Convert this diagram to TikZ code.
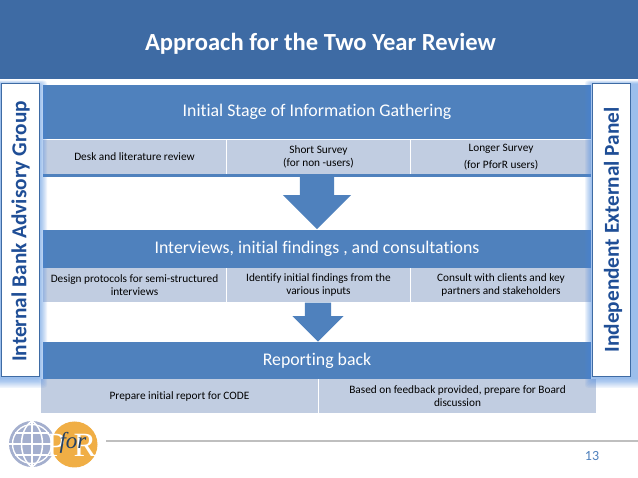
\documentclass[tikz,border=0pt]{standalone}
\usepackage{fontspec}
\setmainfont[Ligatures=NoCommon]{Carlito}
\newfontfamily\logofont{Liberation Serif}
\usepackage{xcolor}
\usetikzlibrary{arrows.meta,positioning,shapes.arrows,calc}
\definecolor{titleblue}{HTML}{3E6BA4}
\definecolor{bandblue}{HTML}{4F81BD}
\definecolor{rowblue}{HTML}{C1CDE1}
\definecolor{panelblue}{HTML}{1F4E96}
\definecolor{glowblue}{HTML}{4A8AE0}
\definecolor{globeblue}{HTML}{A4AFCE}
\definecolor{logoorange}{HTML}{F0AE45}
\tikzset{
  band/.style={fill=bandblue,text=white,font=\fontsize{17.8}{22}\selectfont,inner sep=0pt},
  rowcell/.style={fill=rowblue,text=black,font=\fontsize{11.3}{13}\selectfont,inner sep=0pt,minimum height=34pt},
  panel/.style={draw=titleblue,line width=1pt,fill=white,minimum width=38pt,minimum height=293pt},
  paneltext/.style={rotate=90,text=panelblue,font=\fontsize{21.3}{26}\bfseries\selectfont},
  blockarrow/.style={single arrow,fill=bandblue,rotate=-90,inner xsep=0pt,anchor=tip,single arrow tip angle=90}
}
\begin{document}
\begin{tikzpicture}[x=1pt,y=-1pt,every node/.style={align=center}]
  \useasboundingbox (0,0) rectangle (638,478);
  \fill[white] (0,0) rectangle (638,478);
  % title
  \node[fill=titleblue,minimum width=638pt,minimum height=79pt,inner sep=0pt] (titlebar) at (319,39.5) {};
  \node[text=white,font=\fontsize{24.6}{28}\bfseries\selectfont] (title) at (320.5,44) {Approach for the Two Year Review};
  % first stage
  \node[band,minimum width=548pt,minimum height=54pt] (initial) at (317,112) {Initial Stage of Information Gathering};
  \node[rowcell,minimum width=183pt] (desk) at (134.5,157) {Desk and literature review};
  \node[rowcell,minimum width=183pt] (short) at (318.5,157) {Short Survey\\(for non -users)};
  \node[rowcell,minimum width=180pt] (longer) at (501,157) {Longer Survey\\[4pt](for PforR users)};
  \fill[bandblue] (desk.south west) rectangle ($(longer.south east)+(0,3)$);
  % second stage
  \node[band,minimum width=548pt,minimum height=38pt] (interviews) at (317,249) {Interviews, initial findings , and consultations};
  \node[rowcell,minimum width=183pt] (design) at (134.5,285) {Design protocols for semi-structured\\interviews};
  \node[rowcell,minimum width=183pt] (identify) at (318.5,285) {Identify initial findings from the\\various inputs};
  \node[rowcell,minimum width=180pt] (consult) at (501,285) {Consult with clients and key\\partners and stakeholders};
  % third stage
  \node[band,minimum width=548pt,minimum height=37pt] (reporting) at (317,360.5) {Reporting back};
  \node[rowcell,minimum width=277pt] (prepare) at (179.5,396) {Prepare initial report for CODE};
  \node[rowcell,minimum width=277pt] (board) at (457.5,396) {Based on feedback provided, prepare for Board\\discussion};
  % arrows between stages
  \node[blockarrow,inner ysep=17pt,minimum height=52pt,single arrow head extend=17pt] (firstarrow) at (317,229.5) {};
  \node[blockarrow,inner ysep=13pt,minimum height=39pt,single arrow head extend=12.5pt] (secondarrow) at (318,342) {};
  % glow round the side panels
  \foreach \g in {1,...,8}{
    \fill[glowblue,opacity=.09,rounded corners=3pt] (-10,{80+\g*.5}) rectangle ({48-\g},{389-\g*1.2});
    \fill[glowblue,opacity=.09,rounded corners=3pt] ({584+\g},{80+\g*.5}) rectangle (648,{389-\g*1.2});
  }
  % side panels
  \node[panel] (internal) at (20,230.5) {};
  \node[panel] (external) at (611,230.5) {};
  \node[paneltext] (internaltext) at (20.5,231.5) {Internal Bank Advisory Group};
  \node[paneltext] (externaltext) at (613,230) {Independent External Panel};
  % footer
  \coordinate (rulestart) at (106,441);
  \coordinate (ruleend) at (638,441);
  \draw[gray!50,line width=1.5pt] (rulestart) -- (ruleend);
  \node[text=bandblue,font=\fontsize{14}{16}\selectfont] (pagenum) at (592,456) {13};
  % logo
  \node[circle,draw=globeblue,line width=3pt,fill=globeblue,minimum size=43pt,inner sep=0pt] (globe) at (32,444) {};
  \draw[white,line width=1.3pt] (32,444) circle (19.5pt);
  \draw[white,line width=1.5pt] (globe.north) -- (globe.south) (globe.west) -- (globe.east);
  \draw[white,line width=1.5pt] (globe.north) .. controls (18,430) and (18,458) .. (globe.south);
  \draw[white,line width=1.5pt] (globe.north) .. controls (46,430) and (46,458) .. (globe.south);
  \draw[white,line width=1.5pt] (15,433) -- (49,433) (15,455) -- (49,455);
  \node[circle,fill=logoorange,minimum size=46pt,inner sep=0pt] (orange) at (74.5,444.5) {};
  \node[text=white,font=\logofont\fontsize{34}{34}\selectfont] (logop) at (56,445) {P};
  \node[text=white,font=\logofont\fontsize{34}{34}\selectfont] (logor) at (85,445) {R};
  \node[text=titleblue!60!black,font=\logofont\itshape\fontsize{23}{23}\selectfont] (logofor) at (73,443) {for};
\end{tikzpicture}
\end{document}
